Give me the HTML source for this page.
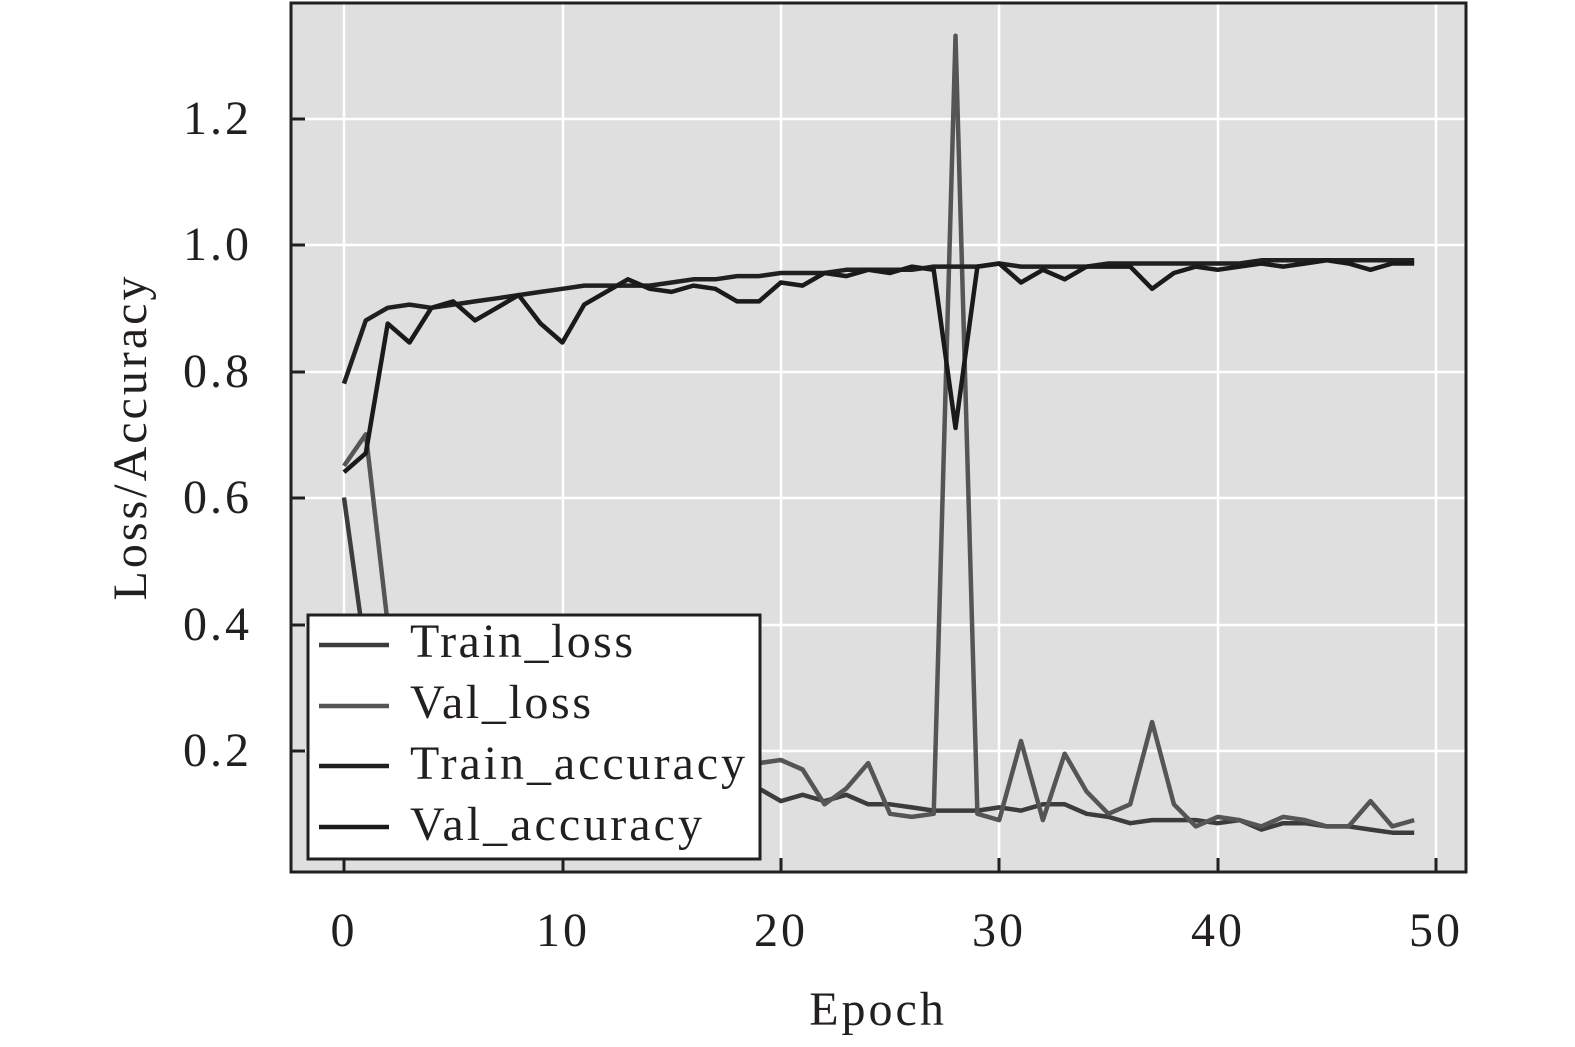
<!DOCTYPE html>
<html><head><meta charset="utf-8"><style>
html,body{margin:0;padding:0;background:#fff}
svg{display:block}
text{font-family:"Liberation Serif","Times New Roman",serif;fill:#231f20;letter-spacing:3px}
</style></head><body>
<svg id="s" width="1575" height="1047" viewBox="0 0 1575 1047" xmlns="http://www.w3.org/2000/svg">
<rect x="291" y="3" width="1175" height="869" fill="#dfdfdf"/>
<g stroke="#fff" stroke-width="2.5">
<line x1="344" y1="3" x2="344" y2="872"/><line x1="563" y1="3" x2="563" y2="872"/><line x1="781" y1="3" x2="781" y2="872"/><line x1="999" y1="3" x2="999" y2="872"/><line x1="1218" y1="3" x2="1218" y2="872"/><line x1="1436" y1="3" x2="1436" y2="872"/>
<line x1="291" y1="119" x2="1466" y2="119"/><line x1="291" y1="245" x2="1466" y2="245"/><line x1="291" y1="372" x2="1466" y2="372"/><line x1="291" y1="498" x2="1466" y2="498"/><line x1="291" y1="625" x2="1466" y2="625"/><line x1="291" y1="751" x2="1466" y2="751"/>
</g>
<g id="lines" fill="none" stroke-width="4.5" stroke-linejoin="round"></g>
<rect x="291" y="3" width="1175" height="869" fill="none" stroke="#231f20" stroke-width="3"/>
<g stroke="#231f20" stroke-width="3">
<line x1="344" y1="872" x2="344" y2="858"/><line x1="563" y1="872" x2="563" y2="858"/><line x1="781" y1="872" x2="781" y2="858"/><line x1="999" y1="872" x2="999" y2="858"/><line x1="1218" y1="872" x2="1218" y2="858"/><line x1="1436" y1="872" x2="1436" y2="858"/>
<line x1="291" y1="119" x2="305" y2="119"/><line x1="291" y1="245" x2="305" y2="245"/><line x1="291" y1="372" x2="305" y2="372"/><line x1="291" y1="498" x2="305" y2="498"/><line x1="291" y1="625" x2="305" y2="625"/><line x1="291" y1="751" x2="305" y2="751"/>
</g>
<rect x="308" y="615" width="452" height="244" fill="#fff" stroke="#231f20" stroke-width="3"/>
<line x1="319" y1="645" x2="389" y2="645" stroke="#3c3c3c" stroke-width="4.5"/>
<line x1="319" y1="706" x2="389" y2="706" stroke="#555" stroke-width="4.5"/>
<line x1="319" y1="766" x2="389" y2="766" stroke="#231f20" stroke-width="4.5"/>
<line x1="319" y1="827" x2="389" y2="827" stroke="#1a1a1a" stroke-width="4.5"/>
<g font-size="48">
<text x="410" y="657" textLength="226">Train_loss</text>
<text x="410" y="718" textLength="184">Val_loss</text>
<text x="410" y="779" textLength="338">Train_accuracy</text>
<text x="410" y="840" textLength="295">Val_accuracy</text>
</g>
<g font-size="48" text-anchor="end">
<text x="252" y="134">1.2</text><text x="252" y="260">1.0</text><text x="252" y="387">0.8</text><text x="252" y="513">0.6</text><text x="252" y="640">0.4</text><text x="252" y="766">0.2</text>
</g>
<g font-size="48" text-anchor="middle">
<text x="344" y="946">0</text><text x="563" y="946">10</text><text x="781" y="946">20</text><text x="999" y="946">30</text><text x="1218" y="946">40</text><text x="1436" y="946">50</text>
<text x="878" y="1025">Epoch</text>
</g>
<text font-size="48" text-anchor="middle" transform="translate(146,437) rotate(-90)">Loss/Accuracy</text>
</svg>
<script>
var ta=[0.78,0.88,0.90,0.905,0.90,0.905,0.91,0.915,0.92,0.925,0.93,0.935,0.935,0.935,0.935,0.94,0.945,0.945,0.95,0.95,0.955,0.955,0.955,0.96,0.96,0.96,0.96,0.965,0.965,0.965,0.97,0.965,0.965,0.965,0.965,0.97,0.97,0.97,0.97,0.97,0.97,0.97,0.975,0.975,0.975,0.975,0.975,0.975,0.975,0.975];
var va=[0.64,0.67,0.875,0.845,0.90,0.91,0.88,0.90,0.92,0.875,0.845,0.905,0.925,0.945,0.93,0.925,0.935,0.93,0.91,0.91,0.94,0.935,0.955,0.95,0.96,0.955,0.965,0.96,0.71,0.965,0.97,0.94,0.96,0.945,0.965,0.965,0.965,0.93,0.955,0.965,0.96,0.965,0.97,0.965,0.97,0.975,0.97,0.96,0.97,0.97];
var tl=[0.60,0.35,0.30,0.27,0.25,0.23,0.22,0.21,0.20,0.19,0.18,0.175,0.17,0.165,0.16,0.155,0.15,0.15,0.145,0.14,0.12,0.13,0.12,0.13,0.115,0.115,0.11,0.105,0.105,0.105,0.11,0.105,0.115,0.115,0.10,0.095,0.085,0.09,0.09,0.09,0.085,0.09,0.075,0.085,0.085,0.08,0.08,0.075,0.07,0.07];
var vl=[0.65,0.70,0.40,0.35,0.30,0.28,0.27,0.25,0.24,0.23,0.22,0.21,0.20,0.20,0.19,0.19,0.18,0.18,0.18,0.18,0.185,0.17,0.115,0.14,0.18,0.10,0.095,0.10,1.33,0.10,0.09,0.215,0.09,0.195,0.135,0.10,0.115,0.245,0.115,0.08,0.095,0.09,0.08,0.095,0.09,0.08,0.08,0.12,0.08,0.09];
function pts(a){return a.map(function(v,i){return (344+i*21.84).toFixed(1)+","+(877-v*632.5).toFixed(1)}).join(" ")}
var g=document.getElementById("lines");
[[tl,"#3c3c3c"],[vl,"#555"],[ta,"#231f20"],[va,"#1a1a1a"]].forEach(function(d){
var p=document.createElementNS("http://www.w3.org/2000/svg","polyline");
p.setAttribute("points",pts(d[0]));p.setAttribute("stroke",d[1]);g.appendChild(p);});
</script>
</body></html>
